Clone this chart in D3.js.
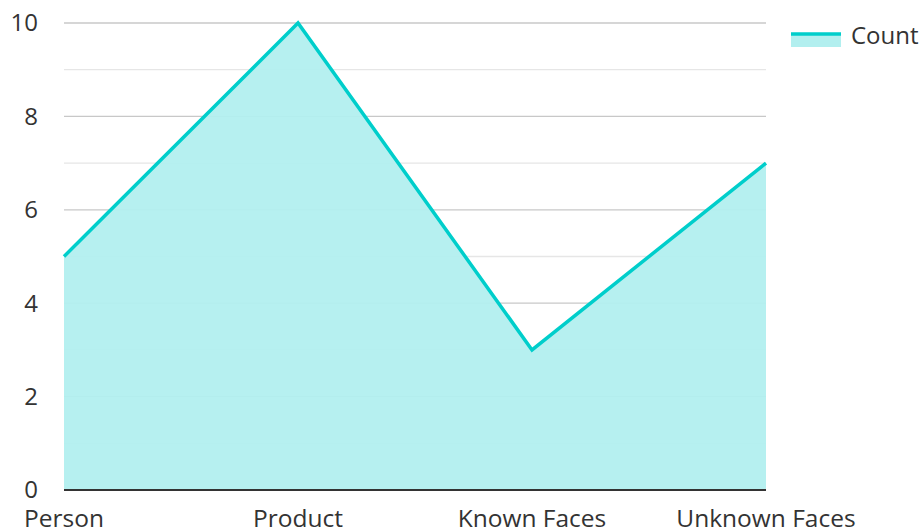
<!DOCTYPE html>
<html>
<head>
<meta charset="utf-8">
<script src="https://cdn.jsdelivr.net/npm/d3@7"></script>
<style>
  body { margin: 0; background: #fff; }
  text { font-family: "Open Sans", "Noto Sans", sans-serif; fill: #333; }
</style>
</head>
<body>
<div id="chart"></div>
<script>
const categories = ["Person", "Product", "Known Faces", "Unknown Faces"];
const counts = [5, 10, 3, 7];
const yTicks = [0, 2, 4, 6, 8, 10];
const seriesName = "Count";

const width = 924, height = 531;
const margin = {top: 23, right: 158, bottom: 41, left: 64};
const lineColor = "#00cecb";
const fillColor = "#b2efef";

const svg = d3.select("#chart").append("svg")
    .attr("width", width)
    .attr("height", height);

const x = d3.scalePoint()
    .domain(categories)
    .range([margin.left, width - margin.right]);

const y = d3.scaleLinear()
    .domain([0, 10])
    .range([height - margin.bottom, margin.top]);

// gridlines: majors every 2, minors in between
svg.append("g")
  .selectAll("line")
  .data(d3.range(1, 11))
  .join("line")
    .attr("x1", margin.left)
    .attr("x2", width - margin.right)
    .attr("y1", d => y(d))
    .attr("y2", d => y(d))
    .attr("stroke", d => d % 2 === 0 ? "#c8c8c8" : "#e6e6e6")
    .attr("stroke-width", 1.3);

const data = categories.map((c, i) => ({cat: c, v: counts[i]}));

const area = d3.area()
    .x(d => x(d.cat))
    .y0(y(0))
    .y1(d => y(d.v));

const line = d3.line()
    .x(d => x(d.cat))
    .y(d => y(d.v));

svg.append("path")
    .attr("d", area(data))
    .attr("fill", fillColor)
    .attr("fill-opacity", 0.95);

svg.append("path")
    .attr("d", line(data))
    .attr("fill", "none")
    .attr("stroke", lineColor)
    .attr("stroke-width", 3.5);

// baseline
svg.append("line")
    .attr("x1", margin.left)
    .attr("x2", width - margin.right)
    .attr("y1", y(0))
    .attr("y2", y(0))
    .attr("stroke", "#333")
    .attr("stroke-width", 2);

// y labels
svg.append("g")
  .selectAll("text")
  .data(yTicks)
  .join("text")
    .attr("x", 38)
    .attr("y", d => y(d))
    .attr("dy", "0.35em")
    .attr("text-anchor", "end")
    .attr("font-size", 24)
    .text(d => d);

// x labels (reference crops them at the bottom edge)
svg.append("g")
  .selectAll("text")
  .data(categories)
  .join("text")
    .attr("x", d => x(d))
    .attr("y", 527)
    .attr("text-anchor", "middle")
    .attr("font-size", 24.5)
    .text(d => d);

// legend
const lg = svg.append("g").attr("transform", "translate(791,34)");
lg.append("rect")
    .attr("x", 0).attr("y", 0)
    .attr("width", 50).attr("height", 13)
    .attr("fill", fillColor);
lg.append("line")
    .attr("x1", 0).attr("x2", 50)
    .attr("y1", 0).attr("y2", 0)
    .attr("stroke", lineColor)
    .attr("stroke-width", 3.5);
lg.append("text")
    .attr("x", 60)
    .attr("y", 10)
    .attr("font-size", 24)
    .text(seriesName);
</script>
</body>
</html>
